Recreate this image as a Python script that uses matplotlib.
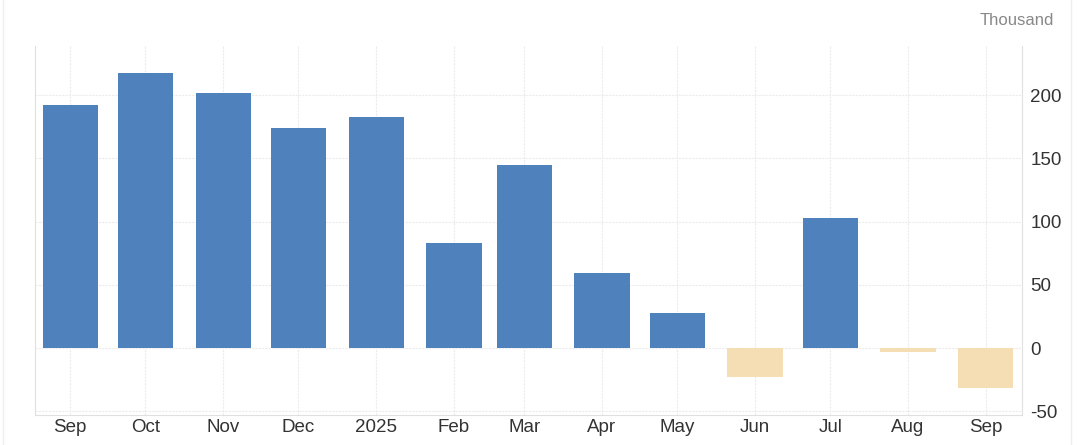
import matplotlib.pyplot as plt
import matplotlib.dates as mdates
import numpy as np
from datetime import datetime

months = ["2024-09", "2024-10", "2024-11", "2024-12", "2025-01", "2025-02", "2025-03",
          "2025-04", "2025-05", "2025-06", "2025-07", "2025-08", "2025-09"]
tick_labels = ["Sep", "Oct", "Nov", "Dec", "2025", "Feb", "Mar", "Apr", "May", "Jun", "Jul", "Aug", "Sep"]
values = [192, 218, 202, 174, 183, 83, 145, 59, 28, -23, 103, -3, -32]

dates = [datetime.strptime(m, "%Y-%m") for m in months]
x = mdates.date2num(dates)
vals = np.array(values)
colors = np.where(vals >= 0, "#4f81bd", "#f5deb3")

plt.rcParams['font.family'] = ['Liberation Sans', 'DejaVu Sans']
plt.rcParams['axes.unicode_minus'] = False

fig = plt.figure(figsize=(10.77, 4.45), dpi=100)
ax = fig.add_axes([0.0325, 0.0674, 0.9165, 0.8292])

ax.bar(x, vals, width=22, color=colors, zorder=2)

ax.set_xticks(x)
ax.set_xticklabels(tick_labels)
ax.set_xlim(x[0] - 14, x[-1] + 14.5)
ax.set_ylim(-53, 239)
ax.set_yticks([-50, 0, 50, 100, 150, 200])

ax.yaxis.tick_right()
ax.tick_params(axis='both', length=0, labelsize=13.5, labelcolor='#333333')
ax.tick_params(axis='y', pad=6)
ax.tick_params(axis='x', pad=3)

ax.grid(True, color='#ececec', linestyle=(0, (2, 1)), linewidth=0.8, zorder=0)
for s in ax.spines.values():
    s.set_color('#e0e0e0')
    s.set_linewidth(0.8)
ax.spines['top'].set_visible(False)

fig.text(0.979, 0.953, "Thousand", ha='right', va='center', fontsize=12, color='#888888')

fig.add_artist(plt.Line2D([0.003, 0.003], [0, 1], color='#eeeeee', linewidth=1))
fig.add_artist(plt.Line2D([0.994, 0.994], [0, 1], color='#eeeeee', linewidth=1))

fig.savefig("out.png", dpi=100)
